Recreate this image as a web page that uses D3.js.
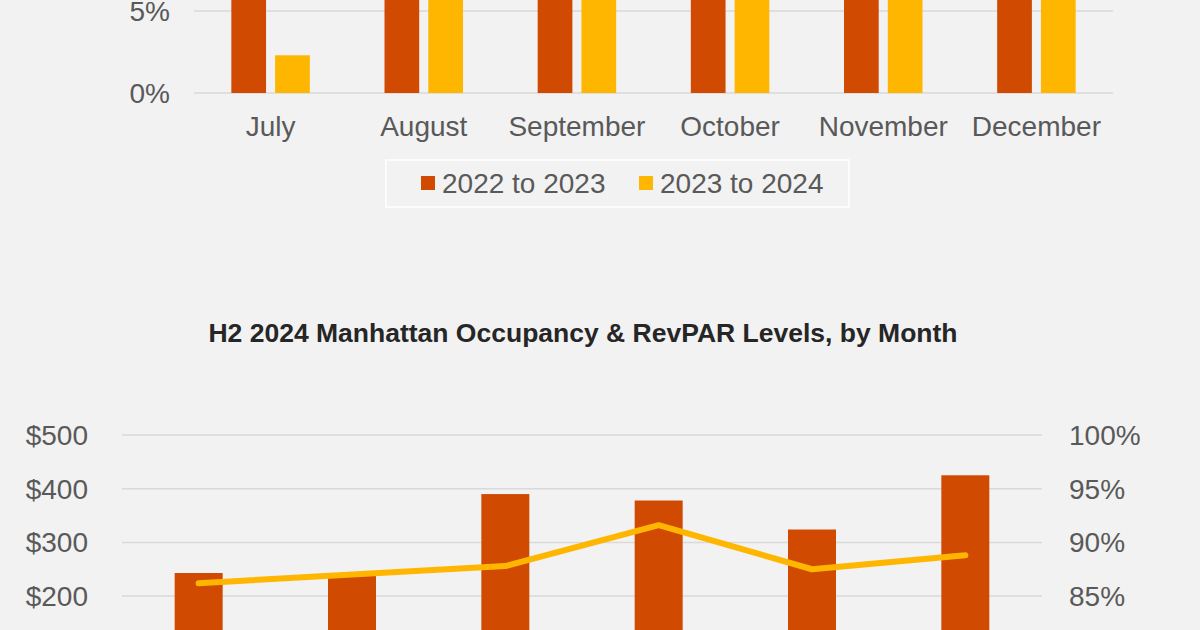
<!DOCTYPE html>
<html><head><meta charset="utf-8">
<script src="https://cdn.jsdelivr.net/npm/d3@7"></script>
<style>html,body{margin:0;padding:0;background:#f2f2f2;overflow:hidden}svg{display:block}</style>
</head><body>
<script>
// ---- Top chart data (growth by month) ----
const months = ["July","August","September","October","November","December"];
const seriesNames = ["2022 to 2023","2023 to 2024"];
const growth2223 = [9.6, 8.6, 10.9, 7.9, 9.0, 10.3];   // upper parts cut off in reference (estimated)
const growth2324 = [2.3, 7.2, 8.5, 9.8, 6.2, 10.1];
const topTicks = [0, 5];

// ---- Bottom chart data ----
const chartTitle = "H2 2024 Manhattan Occupancy & RevPAR Levels, by Month";
const revpar = [243, 238, 390, 378, 324, 425];
const occupancy = [86.2, 87.0, 87.8, 91.6, 87.5, 88.8];
const leftTicks = [200, 300, 400, 500];
const rightTicks = [85, 90, 95, 100];

const colors = ["#D04A02", "#FFB600"];
const W = 1200, H = 630;
const font = "'Liberation Sans', Arial, sans-serif";
const textCol = "#595959";
const gridCol = "#d9d9d9";

const svg = d3.select("body").append("svg").attr("width", W).attr("height", H)
  .style("font-family", font);
svg.append("rect").attr("width", W).attr("height", H).attr("fill", "#f2f2f2");

// ===== Top chart =====
const yTop = d3.scaleLinear().domain([0, 5]).range([93, 11]);
const x0 = d3.scaleBand().domain(months).range([194, 1113]).paddingInner(0.4875).paddingOuter(0.4875/2);
const x1 = d3.scaleBand().domain(seriesNames).range([0, x0.bandwidth()]).paddingInner(0.207);

const gTop = svg.append("g");
gTop.selectAll("line.grid").data(topTicks).join("line")
  .attr("x1", 194).attr("x2", 1113)
  .attr("y1", d => yTop(d)).attr("y2", d => yTop(d))
  .attr("stroke", gridCol).attr("stroke-width", 1.5);
gTop.selectAll("text.yl").data(topTicks).join("text")
  .attr("x", 170).attr("y", d => yTop(d)).attr("dy", "0.35em")
  .attr("text-anchor", "end").attr("font-size", 28).attr("fill", textCol)
  .text(d => d + "%");

const topData = months.map((m, i) => ({m, vals: [growth2223[i], growth2324[i]]}));
const grp = gTop.selectAll("g.grp").data(topData).join("g")
  .attr("transform", d => `translate(${x0(d.m)},0)`);
grp.selectAll("rect").data(d => d.vals.map((v, j) => ({v, s: seriesNames[j], j}))).join("rect")
  .attr("x", d => x1(d.s)).attr("width", x1.bandwidth())
  .attr("y", d => yTop(d.v)).attr("height", d => yTop(0) - yTop(d.v))
  .attr("fill", d => colors[d.j]);

gTop.selectAll("text.xl").data(months).join("text")
  .attr("x", d => x0(d) + x0.bandwidth()/2).attr("y", 136)
  .attr("text-anchor", "middle").attr("font-size", 28).attr("fill", textCol)
  .text(d => d);

// legend
const lg = gTop.append("g");
lg.append("rect").attr("x", 386).attr("y", 160).attr("width", 463).attr("height", 47)
  .attr("fill", "#f2f2f2").attr("stroke", "#ffffff").attr("stroke-width", 1.5);
const legX = [421, 639];
seriesNames.forEach((s, i) => {
  lg.append("rect").attr("x", legX[i]).attr("y", 176).attr("width", 14).attr("height", 14).attr("fill", colors[i]);
  lg.append("text").attr("x", legX[i] + 21).attr("y", 193).attr("font-size", 28).attr("fill", textCol).text(s);
});

// ===== Bottom chart =====
svg.append("text").attr("x", 583).attr("y", 342).attr("text-anchor", "middle")
  .attr("font-size", 26.5).attr("font-weight", "bold").attr("fill", "#262626").text(chartTitle);

const yL = d3.scaleLinear().domain([0, 500]).range([703.5, 435]);
const yR = d3.scaleLinear().domain([75, 100]).range([703.5, 435]);
const xb = d3.scaleBand().domain(months).range([122, 1042]).paddingInner(0.687).paddingOuter(0.687/2);

const gB = svg.append("g");
gB.selectAll("line.grid").data([0, 100].concat(leftTicks)).join("line")
  .attr("x1", 122).attr("x2", 1042)
  .attr("y1", d => yL(d)).attr("y2", d => yL(d))
  .attr("stroke", gridCol).attr("stroke-width", 1.5);
gB.selectAll("text.yl").data(leftTicks).join("text")
  .attr("x", 88).attr("y", d => yL(d)).attr("dy", "0.35em")
  .attr("text-anchor", "end").attr("font-size", 28).attr("fill", textCol)
  .text(d => "$" + d);
gB.selectAll("text.yr").data(rightTicks).join("text")
  .attr("x", 1069).attr("y", d => yR(d)).attr("dy", "0.35em")
  .attr("text-anchor", "start").attr("font-size", 28).attr("fill", textCol)
  .text(d => d + "%");

gB.selectAll("rect.bar").data(revpar).join("rect")
  .attr("x", (d, i) => xb(months[i])).attr("width", xb.bandwidth())
  .attr("y", d => yL(d)).attr("height", d => yL(0) - yL(d))
  .attr("fill", colors[0]);

const line = d3.line()
  .x((d, i) => xb(months[i]) + xb.bandwidth()/2)
  .y(d => yR(d));
gB.append("path").datum(occupancy).attr("d", line)
  .attr("fill", "none").attr("stroke", colors[1]).attr("stroke-width", 6)
  .attr("stroke-linecap", "round").attr("stroke-linejoin", "round");
</script>
</body></html>
